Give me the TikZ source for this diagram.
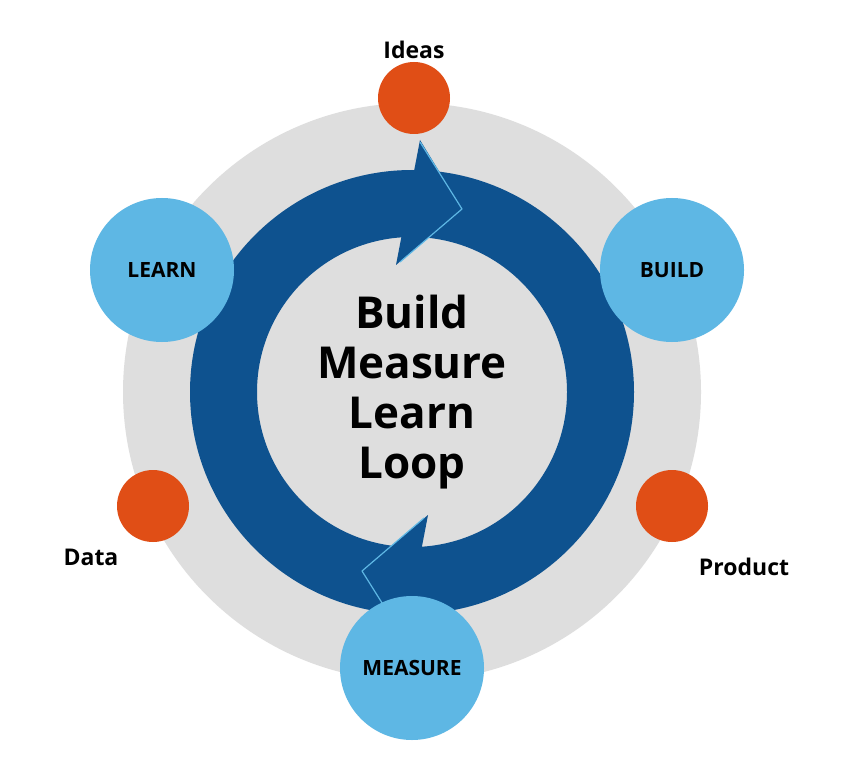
\documentclass[tikz,border=0pt]{standalone}
\usepackage{fontspec}
\setmainfont{Open Sans}
\usetikzlibrary{positioning}
\begin{document}
\begin{tikzpicture}[x=1pt,y=-1pt,
    stage/.style={circle,fill=stepblue,minimum size=144pt,inner sep=0pt,font=\fontsize{21}{21}\selectfont\bfseries},
    dot/.style={circle,fill=dotorange,minimum size=72pt,inner sep=0pt},
    tag/.style={font=\fontsize{23}{23}\selectfont\bfseries}]
    % colours
    \definecolor{ringgray}{RGB}{222,222,222}
    \definecolor{loopblue}{RGB}{14,82,143}
    \definecolor{stepblue}{RGB}{94,183,228}
    \definecolor{dotorange}{RGB}{224,78,22}
    \useasboundingbox[fill=white] (0,0) rectangle (866,775);

    % background disk and loop ring
    \coordinate (c) at (412,392);
    \fill[ringgray] (c) circle (289);
    \fill[loopblue,even odd rule] (c) circle (222) (c) circle (155);

    % arrow heads
    \fill[loopblue] (420,140) -- (462,209) -- (396,265) -- cycle;
    \draw[stepblue,line width=1.2pt,line join=round] (420,142) -- (462,209) -- (400,262);
    \fill[loopblue] (404,640) -- (362,571) -- (428,515) -- cycle;
    \draw[stepblue,line width=1.2pt,line join=round] (404,638) -- (362,571) -- (424,518);

    % centre text
    \node[align=center,font=\fontsize{44}{50}\selectfont\bfseries] (title) at (c) {Build\\Measure\\Learn\\Loop};

    % stages
    \node[stage] (learn) at (162,270) {LEARN};
    \node[stage] (build) at (672,270) {BUILD};
    \node[stage] (measure) at (412,668) {MEASURE};

    % inputs and outputs
    \node[dot] (ideas) at (414,98) {};
    \node[dot] (data) at (153,506) {};
    \node[dot] (product) at (672,506) {};
    \node[tag,above=0pt of ideas] (ideaslbl) {Ideas};
    \node[tag] (datalbl) at (91,557) {Data};
    \node[tag] (productlbl) at (744,567) {Product};
\end{tikzpicture}
\end{document}
